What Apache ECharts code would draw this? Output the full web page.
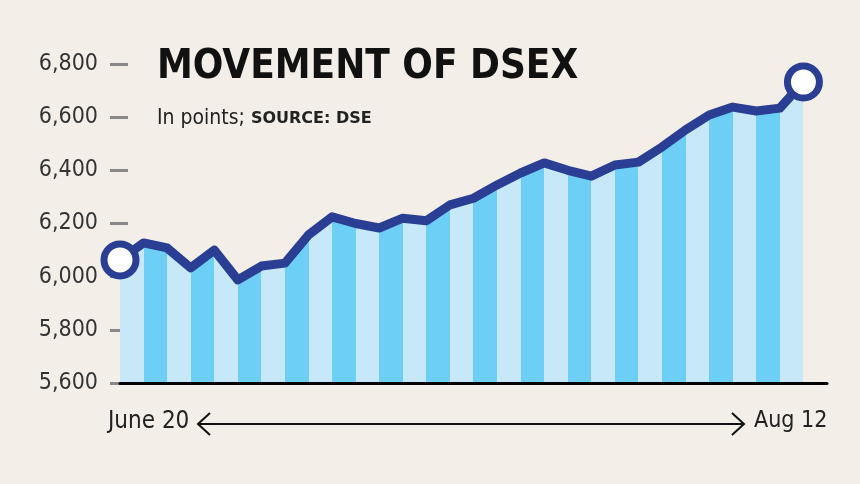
<!DOCTYPE html>
<html><head><meta charset="utf-8">
<script src="https://cdn.jsdelivr.net/npm/echarts@6/dist/echarts.min.js"></script>
<style>html,body{margin:0;background:#f3efe8}#c{width:860px;height:484px}</style>
</head><body><div id="c"></div>
<script>
const categories = Array.from({length:31}, (_, i) => 'P' + i);
const values = [6063,6127,6108,6033,6100,5988,6040,6051,6157,6225,6200,6183,6220,6210,6270,6295,6345,6390,6428,6400,6378,6420,6431,6488,6552,6608,6638,6623,6634,6732,null];
const yTicks = {min:5600, max:6800, interval:200};
const title = 'MOVEMENT OF DSEX';
const startLabel = 'June 20', endLabel = 'Aug 12';

const FONT = '"Liberation Sans Narrow","DejaVu Sans Condensed","Roboto Condensed",sans-serif';
const pieces = [];
for (let i = 0; i < 29; i++) pieces.push({gte:i, lt:i+1, color: i % 2 === 0 ? '#c6e8f8' : '#6dcff5'});

const chart = echarts.init(document.getElementById('c'));
chart.setOption({
  backgroundColor:'#f3efe8',
  animation:false,
  grid:{left:120, right:33, top:64, bottom:101},
  xAxis:{type:'category', data:categories, boundaryGap:false, z:10,
    axisLine:{lineStyle:{color:'#000', width:3}}, axisTick:{show:false}, axisLabel:{show:false}},
  yAxis:{type:'value', min:yTicks.min, max:yTicks.max, interval:yTicks.interval, offset:-8,
    splitLine:{show:false}, axisLine:{show:false},
    axisTick:{show:true, length:18, lineStyle:{color:'#888', width:3}},
    axisLabel:{margin:30, color:'#333', fontSize:23, fontFamily:FONT,
      formatter:v => v.toLocaleString('en-US')}},
  visualMap:{type:'piecewise', show:false, dimension:0, seriesIndex:0, pieces:pieces},
  series:[
    {type:'line', data:values, symbol:'none', lineStyle:{width:0}, areaStyle:{opacity:1}, z:1},
    {type:'line', data:values, symbol:'circle', showSymbol:true, showAllSymbol:true, clip:false,
      symbolSize:(v, p) => (p.dataIndex === 0 || p.dataIndex === 29) ? 32 : 0,
      lineStyle:{color:'#2a3f93', width:9, join:'round'},
      itemStyle:{color:'#fff', borderColor:'#2a3f93', borderWidth:7}, z:3}
  ],
  graphic:[
    {type:'text', left:157, top:48, style:{text:title, font:'bold 40px '+FONT, fill:'#111'}},
    {type:'text', left:157, top:108, style:{rich:{a:{font:'21px '+FONT, fill:'#222'}, b:{font:'bold 16px "DejaVu Sans",sans-serif', fill:'#222'}}, text:'{a|In points; }{b|SOURCE: DSE}'}},
    {type:'text', left:108, top:410, style:{text:startLabel, font:'24px '+FONT, fill:'#222'}},
    {type:'text', left:754, top:410, style:{text:endLabel, font:'23px '+FONT, fill:'#222'}},
    {type:'line', shape:{x1:198, y1:424, x2:744, y2:424}, style:{stroke:'#111', lineWidth:2}},
    {type:'polyline', shape:{points:[[210,413],[198,424],[210,435]]}, style:{stroke:'#111', lineWidth:2, fill:null}},
    {type:'polyline', shape:{points:[[732,413],[744,424],[732,435]]}, style:{stroke:'#111', lineWidth:2, fill:null}}
  ]
});
</script></body></html>
